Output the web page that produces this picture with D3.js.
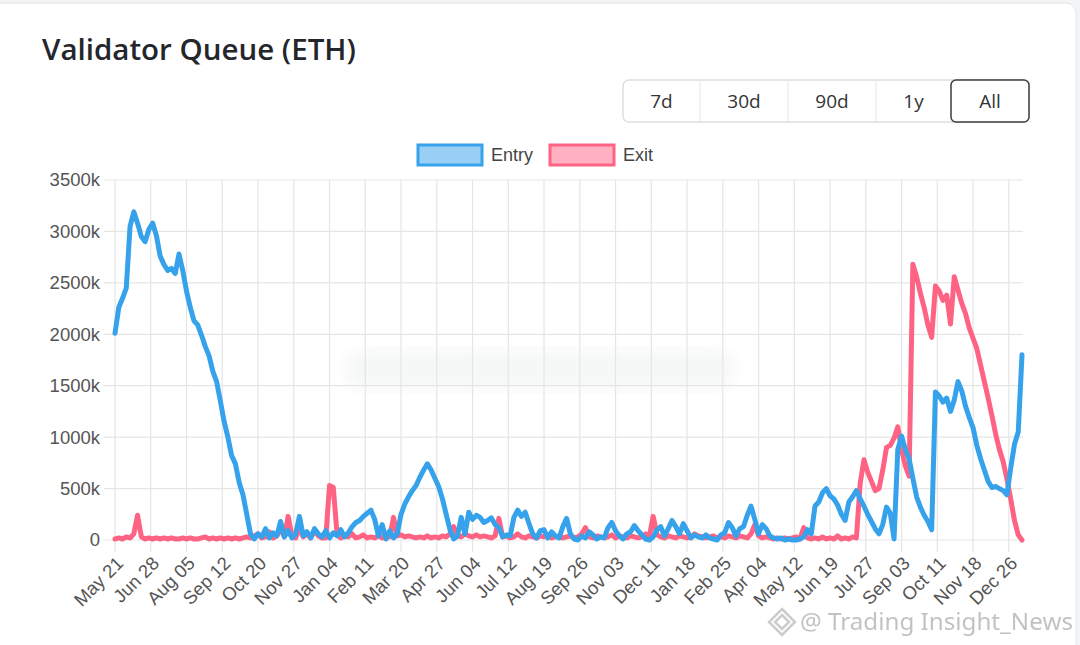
<!DOCTYPE html>
<meta charset="utf-8">
<title>Validator Queue (ETH)</title>
<script src="https://cdn.jsdelivr.net/npm/d3@7"></script>
<style>
    html, body {
        margin: 0;
        padding: 0;
        background: #f3f4f5;
        overflow: hidden;
    }
    svg {
        display: block;
    }
    .title {
        font-family: "Open Sans", "Noto Sans", sans-serif;
        font-weight: 600;
        font-size: 29.5px;
        fill: #23262b;
    }
    .tick-label {
        font-family: "Liberation Sans", Arial, sans-serif;
        font-size: 18.5px;
        fill: #555;
    }
    .x-label {
        font-size: 18.5px;
    }
    .btn-label {
        font-family: "Open Sans", "Noto Sans", sans-serif;
        font-size: 19px;
        fill: #333;
    }
    .legend-label {
        font-family: "Liberation Sans", Arial, sans-serif;
        font-size: 18px;
        fill: #444;
    }
    .mark {
        font-family: "Noto Sans", "Open Sans", sans-serif;
        font-size: 24.2px;
        fill: #b8b8b8;
    }
</style>
<body>
<div id="chart"></div>
<script>
    // first day of the series, one point every 4 days
    var startDay = "2023-05-21";
    var stepDays = 4;

    // entry queue (thousand ETH)
    var entry = [
        2010, 2260, 2350, 2450, 3050, 3190, 3080, 2950, 2900, 3020,
        3080, 2960, 2760, 2680, 2620, 2640, 2590, 2780, 2620, 2420,
        2260, 2130, 2090, 1990, 1880, 1790, 1640, 1540, 1350, 1150,
        1000, 820, 740, 560, 440, 250, 60, 10, 60, 30,
        110, 20, 70, 40, 180, 30, 90, 20, 60, 230,
        40, 80, 20, 110, 60, 30, 90, 20, 70, 40,
        100, 30, 70, 130, 170, 190, 230, 260, 290, 200,
        40, 150, 10, 90, 20, 60, 250, 350, 420, 480,
        530, 610, 680, 740, 680, 600, 520, 400, 250, 100,
        10, 40, 220, 60, 270, 200, 240, 220, 170, 190,
        215, 150, 120, 30, 50, 40, 220, 290, 230, 270,
        160, 60, 20, 90, 100, 20, 80, 40, 20, 130,
        210, 60, 10, 0, 40, 20, 80, 50, 10, 30,
        20, 120, 170, 90, 40, 10, 60, 80, 140, 90,
        50, 10, 0, 30, 100, 130, 40, 110, 190, 130,
        60, 160, 90, 20, 50, 30, 20, 50, 20, 10,
        0, 50, 70, 170, 120, 40, 110, 130, 240, 330,
        200, 60, 150, 110, 40, 20, 10, 20, 0, 10,
        0, 0, 10, 30, 100, 60, 330, 370, 460, 500,
        430, 400, 340, 250, 190, 370, 420, 480, 400, 330,
        250, 180, 110, 60, 150, 320, 260, 10, 880, 1010,
        880, 790, 600, 420, 320, 240, 180, 100, 1440, 1400,
        1340, 1380, 1250, 1360, 1540, 1450, 1300, 1190, 1090, 920,
        790, 680, 570, 510, 520, 500, 480, 440, 700, 930,
        1050, 1800
    ];

    // exit queue (thousand ETH)
    var exit = [
        10, 20, 10, 30, 20, 60, 240, 30, 10, 20,
        10, 20, 10, 20, 10, 20, 10, 10, 20, 10,
        20, 10, 10, 20, 30, 10, 20, 10, 20, 10,
        20, 10, 20, 10, 20, 30, 20, 40, 60, 20,
        30, 80, 20, 40, 110, 30, 230, 40, 20, 120,
        30, 60, 20, 90, 40, 20, 20, 530, 510, 60,
        20, 40, 30, 60, 20, 30, 50, 20, 30, 20,
        40, 20, 60, 30, 220, 40, 50, 30, 40, 30,
        20, 30, 20, 40, 20, 30, 20, 40, 30, 60,
        130, 40, 30, 60, 40, 30, 50, 30, 40, 30,
        20, 40, 210, 30, 40, 20, 30, 60, 30, 20,
        40, 30, 20, 40, 30, 50, 20, 30, 40, 20,
        30, 40, 20, 30, 60, 120, 30, 20, 40, 30,
        20, 30, 50, 20, 40, 30, 20, 40, 30, 20,
        30, 60, 40, 230, 50, 30, 20, 40, 30, 20,
        40, 30, 20, 30, 60, 40, 30, 20, 30, 40,
        20, 30, 20, 40, 30, 20, 40, 30, 20, 60,
        150, 40, 20, 30, 20, 10, 20, 10, 20, 10,
        20, 30, 10, 120, 20, 10, 20, 10, 30, 10,
        20, 10, 40, 10, 20, 10, 30, 20, 550, 780,
        660, 570, 480, 500, 680, 900, 920, 990, 1100, 880,
        720, 620, 2680, 2560, 2400, 2260, 2090, 1970, 2470, 2420,
        2330, 2380, 2100, 2560, 2430, 2300, 2200, 2060, 1960, 1860,
        1700, 1540, 1380, 1210, 1030, 880, 760, 590, 400, 190,
        50, 0
    ];

    var tickDates = [
        "2023-05-21", "2023-06-28", "2023-08-05", "2023-09-12", "2023-10-20", "2023-11-27",
        "2024-01-04", "2024-02-11", "2024-03-20", "2024-04-27", "2024-06-04", "2024-07-12",
        "2024-08-19", "2024-09-26", "2024-11-03", "2024-12-11", "2025-01-18", "2025-02-25",
        "2025-04-04", "2025-05-12", "2025-06-19", "2025-07-27", "2025-09-03", "2025-10-11",
        "2025-11-18", "2025-12-26"
    ];
    var yTicks = [0, 500, 1000, 1500, 2000, 2500, 3000, 3500];
    var ranges = ["7d", "30d", "90d", "1y", "All"];

    var W = 1080, H = 645;
    var plotL = 115, plotR = 1022, plotT = 180, plotB = 540;

    var parse = d3.utcParse("%Y-%m-%d");
    var t0 = parse(startDay);
    var dates = entry.map(function (d, i) { return d3.utcDay.offset(t0, i * stepDays); });

    var x = d3.scaleUtc().domain([dates[0], dates[dates.length - 1]]).range([plotL, plotR]);
    var y = d3.scaleLinear().domain([0, 3500]).range([plotB, plotT]);

    var svg = d3.select("#chart").append("svg")
        .attr("width", W)
        .attr("height", H);

    // card
    svg.append("rect")
        .attr("x", -12).attr("y", 3)
        .attr("width", 1088).attr("height", 660)
        .attr("rx", 10)
        .attr("fill", "#fff")
        .attr("stroke", "#e4e6e8");

    // faint blurred watermark in the middle
    var defs = svg.append("defs");
    defs.append("filter").attr("id", "blur")
        .append("feGaussianBlur").attr("stdDeviation", 7);
    svg.append("rect")
        .attr("x", 345).attr("y", 350).attr("width", 390).attr("height", 40)
        .attr("rx", 18)
        .attr("fill", "#f6f7f7")
        .attr("filter", "url(#blur)");

    svg.append("text")
        .attr("class", "title")
        .attr("x", 42).attr("y", 60)
        .text("Validator Queue (ETH)");

    // range buttons
    var btnX = [623, 700, 788, 876, 951, 1029];
    var btnTop = 80, btnH = 42;
    var btns = svg.append("g");
    btns.append("rect")
        .attr("x", btnX[0]).attr("y", btnTop)
        .attr("width", btnX[5] - btnX[0]).attr("height", btnH)
        .attr("rx", 6)
        .attr("fill", "#fff")
        .attr("stroke", "#dcdfe3")
        .attr("stroke-width", 1.5);
    ranges.forEach(function (r, i) {
        if (i > 0 && i < 4) {
            btns.append("line")
                .attr("x1", btnX[i]).attr("x2", btnX[i])
                .attr("y1", btnTop + 1).attr("y2", btnTop + btnH - 1)
                .attr("stroke", "#e3e5e8");
        }
        if (r === "All") {
            btns.append("rect")
                .attr("x", btnX[i]).attr("y", btnTop)
                .attr("width", btnX[i + 1] - btnX[i]).attr("height", btnH)
                .attr("rx", 5)
                .attr("fill", "#fff")
                .attr("stroke", "#3a3d42")
                .attr("stroke-width", 1.5);
        }
        btns.append("text")
            .attr("class", "btn-label")
            .attr("x", (btnX[i] + btnX[i + 1]) / 2)
            .attr("y", btnTop + btnH / 2)
            .attr("dy", "0.35em")
            .attr("text-anchor", "middle")
            .text(r);
    });

    // legend
    var series = [
        { name: "Entry", values: entry, color: "rgb(54,162,235)", fill: "rgba(54,162,235,0.5)", lx: 418 },
        { name: "Exit", values: exit, color: "rgb(255,99,132)", fill: "rgba(255,99,132,0.5)", lx: 550 }
    ];
    series.forEach(function (s) {
        svg.append("rect")
            .attr("x", s.lx).attr("y", 145)
            .attr("width", 64).attr("height", 20)
            .attr("fill", s.fill)
            .attr("stroke", s.color)
            .attr("stroke-width", 3);
        svg.append("text")
            .attr("class", "legend-label")
            .attr("x", s.lx + 73).attr("y", 155)
            .attr("dy", "0.35em")
            .text(s.name);
    });

    // grid + axes
    var grid = svg.append("g").attr("stroke", "#e5e5e5").attr("stroke-width", 1.2);
    var ticks = tickDates.map(parse);
    grid.selectAll(".vx").data(ticks).enter().append("line")
        .attr("x1", function (d) { return x(d); })
        .attr("x2", function (d) { return x(d); })
        .attr("y1", plotT).attr("y2", plotB + 12);
    grid.selectAll(".hy").data(yTicks).enter().append("line")
        .attr("x1", plotL - 11).attr("x2", plotR + 1)
        .attr("y1", function (d) { return y(d); })
        .attr("y2", function (d) { return y(d); });

    svg.append("g").selectAll("text").data(yTicks).enter().append("text")
        .attr("class", "tick-label")
        .attr("x", plotL - 15)
        .attr("y", function (d) { return y(d); })
        .attr("dy", "0.35em")
        .attr("text-anchor", "end")
        .text(function (d) { return d === 0 ? "0" : d + "k"; });

    var fmt = d3.utcFormat("%b %d");
    svg.append("g").selectAll("text").data(ticks).enter().append("text")
        .attr("class", "tick-label x-label")
        .attr("text-anchor", "end")
        .attr("transform", function (d) { return "translate(" + (x(d) + 5) + "," + (plotB + 20) + ") rotate(-45)"; })
        .attr("dy", "0.35em")
        .text(function (d) { return fmt(d); });

    // lines: exit below, entry on top
    var line = d3.line()
        .x(function (d, i) { return x(dates[i]); })
        .y(function (d) { return y(d); });
    series.slice().reverse().forEach(function (s) {
        svg.append("path")
            .datum(s.values)
            .attr("d", line)
            .attr("fill", "none")
            .attr("stroke", s.color)
            .attr("stroke-width", 5)
            .attr("stroke-linejoin", "round")
            .attr("stroke-linecap", "round");
    });

    // watermark bottom right
    var wm = svg.append("g").attr("opacity", 0.85);
    wm.append("path")
        .attr("d", "M782,609 L795,622 L782,635 L769,622 Z M782,615 L789,622 L782,629 L775,622 Z")
        .attr("fill", "none")
        .attr("stroke", "#c4c4c4")
        .attr("stroke-width", 2.5);
    wm.append("text")
        .attr("class", "mark")
        .attr("x", 800).attr("y", 630)
        .text("@ Trading Insight_News");
</script>
</body>
